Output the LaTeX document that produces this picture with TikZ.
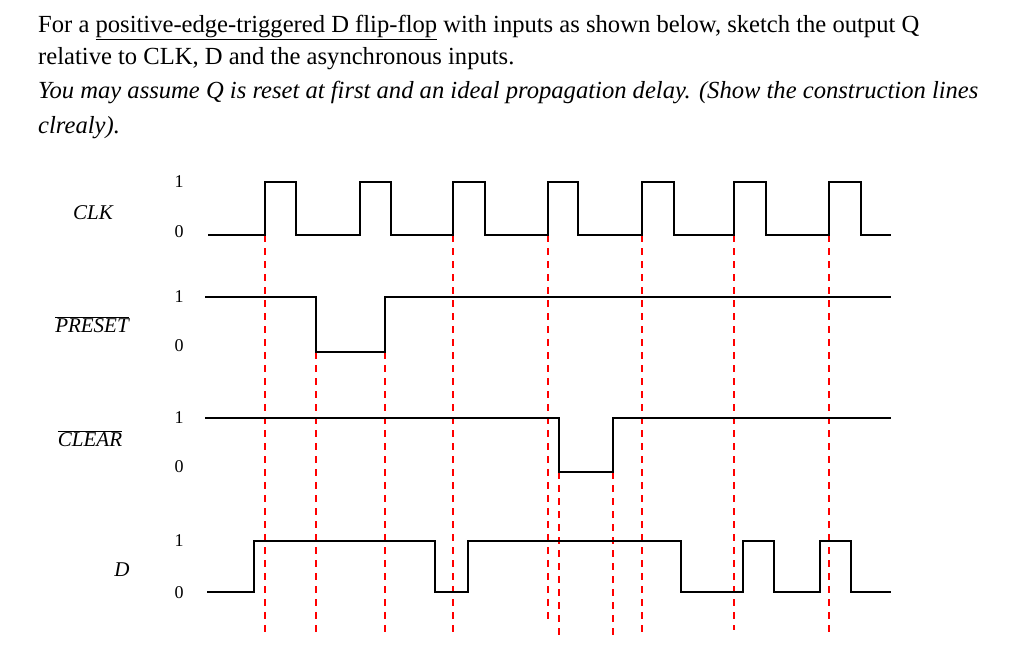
\documentclass[tikz,border=0pt]{standalone}
\usepackage{fontspec}
\setmainfont{Liberation Serif}
\begin{document}
\begin{tikzpicture}[x=1pt,y=-1pt,
  wave/.style={line width=1.4pt,black},
  cons/.style={red,line width=1.6pt,dash pattern=on 7pt off 6pt},
  txt/.style={anchor=base west,inner sep=0pt,font=\fontsize{24.6}{28}\selectfont},
  sig/.style={inner sep=0pt,font=\fontsize{21}{24}\selectfont\itshape},
  lvl/.style={inner sep=0pt,font=\fontsize{18}{20}\selectfont}]
\useasboundingbox (0,0) rectangle (1019,656);
\node[txt] (t1) at (38,32) {For a \underline{positive-edge-triggered D flip-flop} with inputs as shown below, sketch the output Q};
\node[txt] (t2) at (38,64) {relative to CLK, D and the asynchronous inputs.};
\node[txt] (t3) at (38,98) {\itshape You may assume Q is reset at first and an ideal propagation delay. (Show the construction lines};
\node[txt] (t4) at (38,133) {\itshape clrealy).};
% labels
\node[sig] (lclk) at (93,213) {CLK};
\node[sig] (lpre) at (92,325) {$\overline{\mbox{PRESET}}$};
\node[sig] (lclr) at (90,439) {$\overline{\mbox{CLEAR}}$};
\node[sig] (ld) at (122,570) {D};
\foreach \n/\a/\b in {c/182/232,p/297/346,r/418/467,d/541/593}{
  \node[lvl] (\n1) at (179,\a) {1};
  \node[lvl] (\n0) at (179,\b) {0};}
% construction lines
\foreach \x/\a/\b in {265/235/632,316/352/636,385/352/636,453/235/636,548/235/622,559/472/636,613/472/636,642/235/636,734/235/630,829/235/632}
  \draw[cons] (\x,\a) -- (\x,\b);
% CLK
\draw[wave] (208,235) -- (265,235) -- (265,182) -- (296,182) -- (296,235) -- (360,235) -- (360,182) -- (391,182) -- (391,235)
 -- (453,235) -- (453,182) -- (485,182) -- (485,235) -- (548,235) -- (548,182) -- (578,182) -- (578,235)
 -- (642,235) -- (642,182) -- (674,182) -- (674,235) -- (734,235) -- (734,182) -- (766,182) -- (766,235)
 -- (829,235) -- (829,182) -- (861,182) -- (861,235) -- (891,235);
% PRESET
\draw[wave] (205,297) -- (316,297) -- (316,352) -- (385,352) -- (385,297) -- (891,297);
% CLEAR
\draw[wave] (205,418) -- (559,418) -- (559,472) -- (613,472) -- (613,418) -- (891,418);
% D
\draw[wave] (207,592) -- (254,592) -- (254,541) -- (435,541) -- (435,592) -- (468,592) -- (468,541) -- (681,541) -- (681,592)
 -- (743,592) -- (743,541) -- (774,541) -- (774,592) -- (820,592) -- (820,541) -- (851,541) -- (851,592) -- (891,592);
\end{tikzpicture}
\end{document}
